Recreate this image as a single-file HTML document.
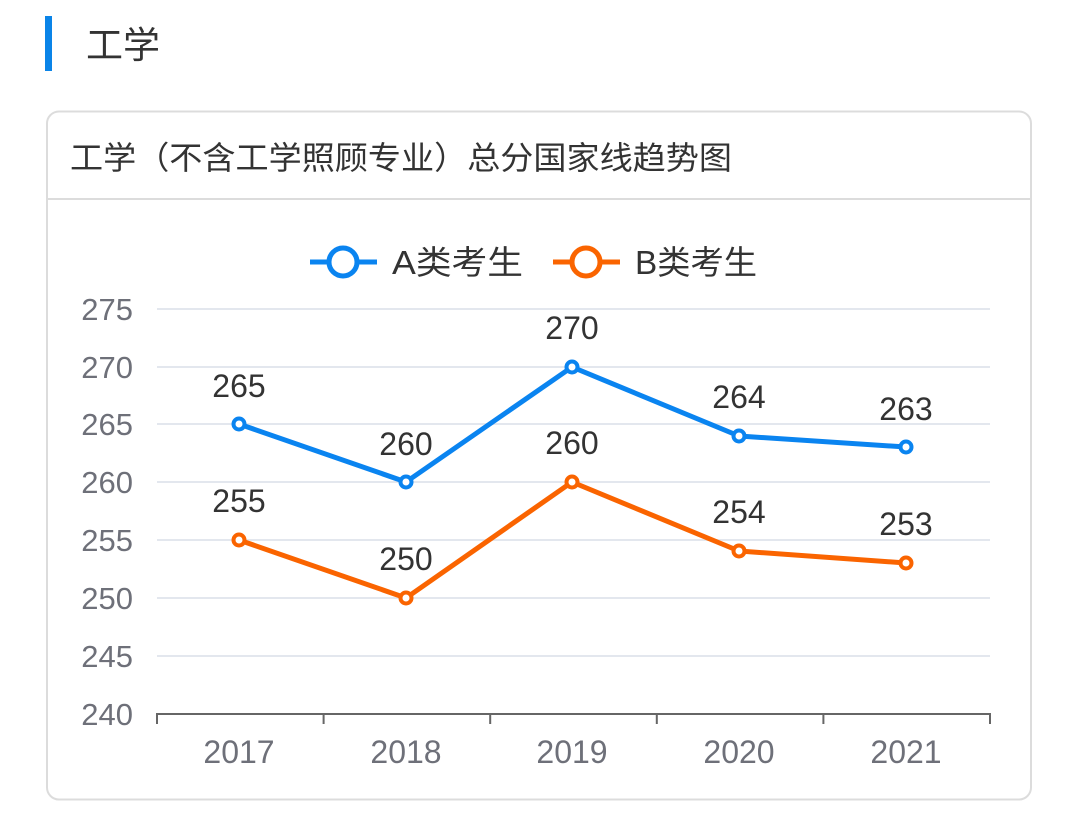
<!DOCTYPE html>
<html><head><meta charset="utf-8"><style>
html,body{margin:0;padding:0;background:#fff;}
svg{display:block;}
text{font-family:"Liberation Sans","Noto Sans CJK SC",sans-serif;}
</style></head><body>
<svg width="1080" height="816" viewBox="0 0 1080 816" xmlns="http://www.w3.org/2000/svg">
<rect x="45" y="16" width="7" height="55" fill="#0a84e8"/>
<text x="86" y="58" font-size="37" fill="#333">工学</text>
<rect x="47" y="111.5" width="984" height="688" rx="12" fill="#fff" stroke="#dcdcdc" stroke-width="2"/>
<line x1="48" y1="199" x2="1030" y2="199" stroke="#dcdcdc" stroke-width="2"/>
<text x="70" y="169" font-size="32" fill="#333" textLength="662" lengthAdjust="spacingAndGlyphs">工学（不含工学照顾专业）总分国家线趋势图</text>
<!-- legend -->
<line x1="310" y1="262" x2="377" y2="262" stroke="#0a84f0" stroke-width="5"/>
<circle cx="343" cy="262" r="14" fill="#fff" stroke="#0a84f0" stroke-width="5"/>
<text x="392" y="274" font-size="33" fill="#333" textLength="131" lengthAdjust="spacingAndGlyphs">A类考生</text>
<line x1="553" y1="262" x2="620" y2="262" stroke="#fa6400" stroke-width="5"/>
<circle cx="586" cy="262" r="14" fill="#fff" stroke="#fa6400" stroke-width="5"/>
<text x="635" y="274" font-size="33" fill="#333" textLength="122" lengthAdjust="spacingAndGlyphs">B类考生</text>
<!-- grid -->
<g stroke="#e3e7ee" stroke-width="2">
<line x1="157" y1="309" x2="990" y2="309"/>
<line x1="157" y1="367" x2="990" y2="367"/>
<line x1="157" y1="424" x2="990" y2="424"/>
<line x1="157" y1="482" x2="990" y2="482"/>
<line x1="157" y1="540" x2="990" y2="540"/>
<line x1="157" y1="598" x2="990" y2="598"/>
<line x1="157" y1="656" x2="990" y2="656"/>
</g>
<g stroke="#666" stroke-width="2">
<line x1="156" y1="714" x2="991" y2="714"/>
<line x1="157" y1="714" x2="157" y2="724"/>
<line x1="323.6" y1="714" x2="323.6" y2="724"/>
<line x1="490.2" y1="714" x2="490.2" y2="724"/>
<line x1="656.8" y1="714" x2="656.8" y2="724"/>
<line x1="823.4" y1="714" x2="823.4" y2="724"/>
<line x1="990" y1="714" x2="990" y2="724"/>
</g>
<g font-size="31" fill="#6e7079" text-anchor="end">
<text x="133" y="320">275</text>
<text x="133" y="378">270</text>
<text x="133" y="435">265</text>
<text x="133" y="493">260</text>
<text x="133" y="551">255</text>
<text x="133" y="609">250</text>
<text x="133" y="667">245</text>
<text x="133" y="725">240</text>
</g>
<g font-size="32" fill="#6e7079" text-anchor="middle">
<text x="239" y="763">2017</text>
<text x="406" y="763">2018</text>
<text x="572" y="763">2019</text>
<text x="739" y="763">2020</text>
<text x="906" y="763">2021</text>
</g>
<polyline points="239,424 406,482 572,367 739,436 906,447" fill="none" stroke="#0a84f0" stroke-width="5" stroke-linejoin="round"/>
<polyline points="239,540 406,598 572,482 739,551 906,563" fill="none" stroke="#fa6400" stroke-width="5" stroke-linejoin="round"/>
<g fill="#fff" stroke="#0a84f0" stroke-width="4">
<circle cx="239" cy="424" r="5.5"/><circle cx="406" cy="482" r="5.5"/><circle cx="572" cy="367" r="5.5"/><circle cx="739" cy="436" r="5.5"/><circle cx="906" cy="447" r="5.5"/>
</g>
<g fill="#fff" stroke="#fa6400" stroke-width="4">
<circle cx="239" cy="540" r="5.5"/><circle cx="406" cy="598" r="5.5"/><circle cx="572" cy="482" r="5.5"/><circle cx="739" cy="551" r="5.5"/><circle cx="906" cy="563" r="5.5"/>
</g>
<g font-size="32" fill="#333" text-anchor="middle">
<text x="239" y="397">265</text><text x="406" y="455">260</text><text x="572" y="339">270</text><text x="739" y="408">264</text><text x="906" y="420">263</text>
<text x="239" y="512">255</text><text x="406" y="570">250</text><text x="572" y="454">260</text><text x="739" y="523">254</text><text x="906" y="535">253</text>
</g>
</svg>
</body></html>
